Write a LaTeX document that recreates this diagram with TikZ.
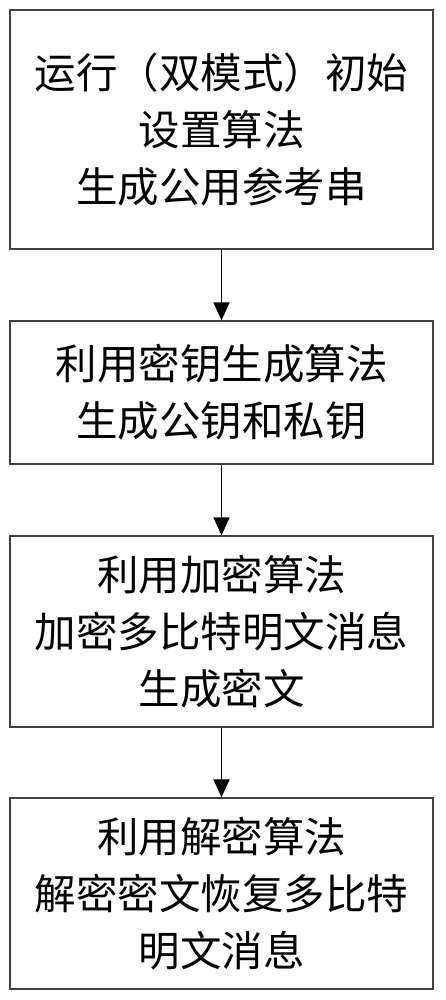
\documentclass[tikz,border=0pt]{standalone}
\usepackage{fontspec}
\setmainfont{Noto Sans CJK SC}
\usetikzlibrary{arrows.meta}
\begin{document}
\begin{tikzpicture}[x=1pt,y=-1pt,
  stepbox/.style={draw=black!75, line width=1.3pt, minimum width=423pt, inner sep=0pt,
    align=center, font=\fontsize{41.5}{57}\selectfont, text=black},
  flow/.style={draw=black, line width=1.6pt, -{Triangle[length=18pt,width=16pt]}}]
\useasboundingbox (0,0) rectangle (445,1000);
\node[stepbox, minimum height=239pt] (b1) at (221.5,129.5) {运行（双模式）初始\\设置算法\\生成公用参考串};
\node[stepbox, minimum height=143pt] (b2) at (221.5,392.5) {利用密钥生成算法\\生成公钥和私钥};
\node[stepbox, minimum height=191pt] (b3) at (221.5,631.5) {利用加密算法\\加密多比特明文消息\\生成密文};
\node[stepbox, minimum height=191pt] (b4) at (221.5,893.5) {利用解密算法\\解密密文恢复多比特\\明文消息};
\draw[flow] (b1) -- (b2);
\draw[flow] (b2) -- (b3);
\draw[flow] (b3) -- (b4);
\end{tikzpicture}
\end{document}
